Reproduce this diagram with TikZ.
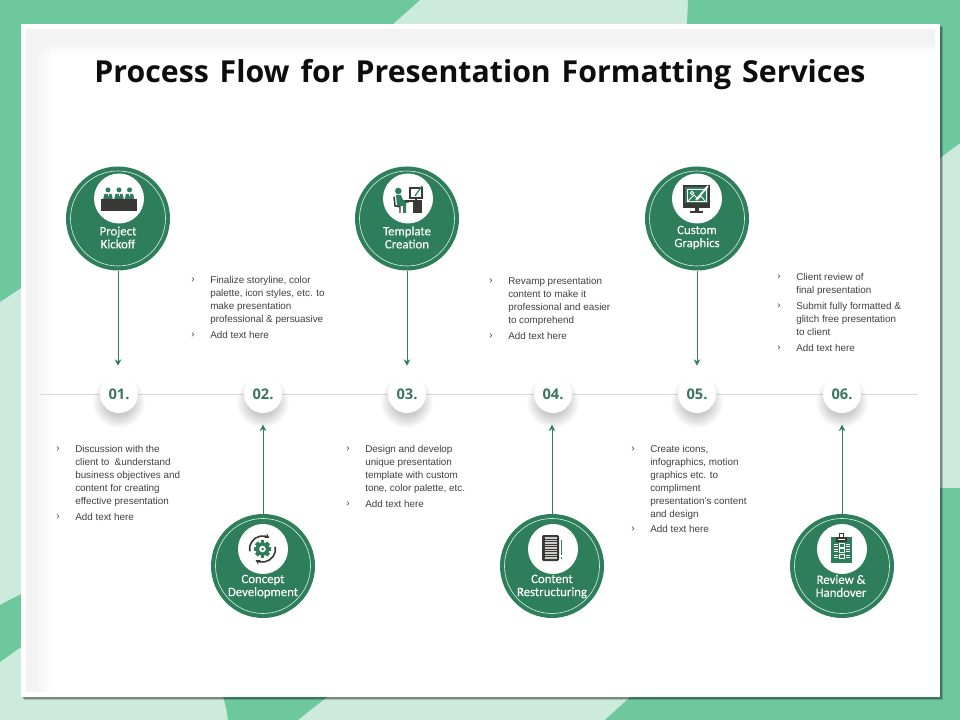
\documentclass[tikz,border=0pt]{standalone}
\usepackage{fontspec}
\setmainfont{Liberation Sans}
\newfontfamily\titlefont{Open Sans}
\newfontfamily\labelfont[FakeBold=0.06]{Carlito}
\usetikzlibrary{arrows.meta,fadings}
\definecolor{gmid}{HTML}{6DC89E}
\definecolor{glight}{HTML}{CDEBDC}
\definecolor{gdark}{HTML}{2E7D5B}
\definecolor{gring}{HTML}{C9EBDB}
\definecolor{icond}{HTML}{3B3838}
\definecolor{bandg}{HTML}{F3F3F3}
\definecolor{bodyt}{HTML}{404040}
\definecolor{numt}{HTML}{3A7560}
\tikzset{
  x=.75pt,y=-.75pt,
  bignode/.style={circle,fill=gdark,minimum size=78pt,inner sep=0pt},
  ringline/.style={draw=gring,line width=.5pt},
  iconback/.style={circle,fill=white,minimum size=37.5pt,inner sep=0pt},
  numnode/.style={circle,fill=white,minimum size=28.5pt,inner sep=0pt,font=\titlefont\bfseries\fontsize{11}{11}\selectfont,text=numt},
  biglabel/.style={align=center,text=white,inner sep=0pt,font=\labelfont\fontsize{9.6}{9.75}\selectfont},
  conn/.style={draw=gdark,line width=.75pt,-{Stealth[length=4.8pt,width=5pt,inset=1.6pt]}},
  bodytext/.style={anchor=north west,align=left,inner sep=0pt,text=bodyt,font=\fontsize{7.4}{9.75}\selectfont},
  chev/.style={anchor=center,inner sep=0pt,text=bodyt,font=\fontsize{7.4}{9.75}\selectfont},
  arcline/.style={draw=icond,line width=1.2pt,-{Stealth[length=3.4pt,width=4pt]}},
}
\newcommand{\numshadow}[2]{%
  \foreach \rr in {26,25,...,14}{\fill[black,opacity=.016] (#1,#2+8) circle[radius=\rr];}%
}
\newcommand{\bulitem}[5]{% name, bullet x, text x, y, text
  \node[chev] (#1b) at (#2,#4+1.5) {›};
  \node[bodytext] (#1t) at (#3,#4-2.8) {#5};
}
\begin{document}
\begin{tikzpicture}
\useasboundingbox (0,0) rectangle (960,720);
% background
\fill[glight] (0,0) rectangle (960,720);
\fill[gmid] (0,0)--(420,0)--(393,24)--(21,24)--(21,288)--(0,302)--cycle;
\fill[gmid] (688,0)--(960,0)--(960,143)--(940,158)--(940,24)--(687,24)--cycle;
\fill[gmid] (630,697)--(605,720)--(960,720)--(960,488)--(940,488)--(940,697)--cycle;
\fill[gmid] (223,697)--(327,697)--(298,720)--(228,720) .. controls (227,712) and (226,705) .. (223,697)--cycle;
\fill[gmid] (0,605)--(21,594)--(21,647)--(0,662)--cycle;
% panel
\fill[black,opacity=.18] (24,27) rectangle (943,700);
\fill[black,opacity=.28] (23,26) rectangle (942,699);
\fill[white] (21,24) rectangle (940,697);
\fill[bandg] (26,29) rectangle (34,692);
\fill[bandg,path fading=east] (34,29) rectangle (52,692);
\fill[bandg] (26,29) rectangle (935,42);
\fill[bandg,path fading=south] (26,42) rectangle (935,54);
% title
\node[inner sep=0pt,text=black!95] (title) at (480,75) {\titlefont\bfseries\fontsize{22.7}{28}\selectfont\spaceskip=.36em Process Flow for Presentation Formatting Services};
% axis
\coordinate (axl) at (40,394);
\coordinate (axr) at (918,394);
\draw[draw=black!15,line width=.7pt] (axl)--(axr);
% number circles
\numshadow{119}{394}\numshadow{263}{394}\numshadow{407}{394}\numshadow{553}{394}\numshadow{697}{394}\numshadow{842}{394}
\node[numnode] (n1) at (119,394) {01.};
\node[numnode] (n2) at (263,394) {02.};
\node[numnode] (n3) at (407,394) {03.};
\node[numnode] (n4) at (553,394) {04.};
\node[numnode] (n5) at (697,394) {05.};
\node[numnode] (n6) at (842,394) {06.};
% big circles
\node[bignode] (c1) at (118,218.5) {};
\node[bignode] (c2) at (263,566) {};
\node[bignode] (c3) at (407,218.5) {};
\node[bignode] (c4) at (552,566) {};
\node[bignode] (c5) at (697,218.5) {};
\node[bignode] (c6) at (842,566) {};
\foreach \c in {c1,c2,c3,c4,c5,c6}{\draw[ringline] (\c) circle[radius=47.5];}
\node[iconback] (i1) at (119,198.5) {};
\node[iconback] (i2) at (263,549) {};
\node[iconback] (i3) at (408,198.5) {};
\node[iconback] (i4) at (697,198.5) {};
\node[iconback] (i5) at (553,549) {};
\node[iconback] (i6) at (842,549) {};
% labels
\node[biglabel] (l1) at (118,237.5) {Project\\Kickoff};
\node[biglabel] (l2) at (263,586.5) {Concept\\Development};
\node[biglabel] (l3) at (407,237.5) {Template\\Creation};
\node[biglabel] (l4) at (552,586.5) {Content\\Restructuring};
\node[biglabel] (l5) at (697,237.5) {Custom\\Graphics};
\node[biglabel] (l6) at (841,586) {Review \&\\Handover};
% connectors
\draw[conn,shorten >=6.8pt] (c1.south) -- (n1.north -| c1.south);
\draw[conn,shorten >=6.8pt] (c3.south) -- (n3.north -| c3.south);
\draw[conn,shorten >=6.8pt] (c5.south) -- (n5.north -| c5.south);
\draw[conn,shorten >=8.6pt] (c2.north) -- (n2.south -| c2.north);
\draw[conn,shorten >=8.6pt] (c4.north) -- (n4.south -| c4.north);
\draw[conn,shorten >=8.6pt] (c6.north) -- (n6.south -| c6.north);
% icon 1: meeting
\begin{scope}[shift={(119,198.5)}]
\foreach \dx in {-11,0,10.5}{
  \fill[gdark] (\dx,-8.6) circle[radius=2.5];
  \fill[gdark] (\dx-5,1.5)--(\dx-3.6,-4.6)--(\dx+3.6,-4.6)--(\dx+5,1.5)--cycle;
  \fill[white] (\dx-.5,-5.5) rectangle (\dx+.5,-2);
}
\fill[icond] (-18.5,1) rectangle (17.5,12.5);
\end{scope}
% icon 2: gear
\begin{scope}[shift={(262.5,549)}]
\foreach \a in {0,45,...,315}{\fill[gdark,rotate=\a] (-1.8,-8.6) rectangle (1.8,8.6);}
\fill[gdark] (0,0) circle[radius=6.8];
\fill[white] (0,0) circle[radius=3.3];
\fill[gdark] (0,0) circle[radius=1.5];
\draw[arcline] (-190:13) arc[start angle=-190,end angle=-58,radius=13];
\draw[arcline] (-10:13) arc[start angle=-10,end angle=122,radius=13];
\end{scope}
% icon 3: person at desk
\begin{scope}[shift={(407,198)}]
\fill[gdark] (-8.7,-7) circle[radius=3.3];
\fill[gdark] (-11,-3)--(-6,-3)--(-4,2)--(2,2.5)--(2,4.5)--(-1,5)--(-1,15)--(-4,15)--(-4,8)--(-10,8)--cycle;
\draw[icond,line width=1.1pt] (-13,-1.3)--(-12,8)--(-7,8.7)--(-7,15);
\draw[icond,line width=.8pt] (-2,3)--(15,3);
\fill[icond] (6,3.5) rectangle (15,15);
\draw[icond,line width=.8pt] (3,-10) rectangle (15,0);
\draw[icond,line width=.8pt] (9,0)--(9,3);
\draw[gdark,line width=.9pt] (8,-2)--(15,-12);
\end{scope}
% icon 4: monitor
\begin{scope}[shift={(697,198)}]
\fill[icond] (-14,-13) rectangle (13,10);
\fill[gdark] (-12,-11) rectangle (11,5.5);
\draw[white,line width=.6pt] (-10,-9) rectangle (9,3.5);
\draw[white,line width=.6pt] (-9,3)--(-3,-3)--(1,1)--(4,-2)--(8,3);
\draw[white,line width=.6pt] (-5,-5) circle[radius=1.8];
\draw[white,line width=1.4pt] (-1,2)--(11,-12);
\fill[icond] (-2.5,10) rectangle (1.5,13);
\fill[icond] (-7,13) rectangle (6,15);
\end{scope}
% icon 5: document
\begin{scope}[shift={(553,549)}]
\fill[icond,rounded corners=1pt] (-11,-14) rectangle (6,12);
\foreach \y in {-11,-8.5,...,9.5}{\draw[white!80!black,line width=.8pt] (-8.5,\y)--(3.5,\y);}
\fill[gdark] (7.6,-9) rectangle (9.4,6);
\fill[gdark] (7.6,7.5) rectangle (9.4,9.5);
\end{scope}
% icon 6: checklist
\begin{scope}[shift={(842,549)}]
\fill[gdark] (-11,-12) rectangle (10,14);
\draw[icond,line width=.8pt,fill=white] (-5,-11) rectangle (4,-8);
\draw[icond,line width=.8pt] (-2.5,-11)--(-2.5,-15.5)--(1.5,-15.5)--(1.5,-11);
\foreach \y in {-4,1.5,7}{
  \draw[white,line width=.6pt] (-2.5,\y-2) rectangle (2,\y+2);
  \draw[white,line width=.6pt] (-8.5,\y-1)--(-4,\y-1) (-8.5,\y+1)--(-4,\y+1);
  \draw[white,line width=.6pt] (3.5,\y-1)--(8,\y-1) (3.5,\y+1)--(8,\y+1);
}
\end{scope}
% texts
\bulitem{a1}{58}{75}{448}{Discussion with the\\client to \ \&understand\\business objectives and\\content for creating\\effective presentation}
\bulitem{a2}{58}{75}{516}{Add text here}
\bulitem{b1}{193}{210}{279}{Finalize storyline, color\\palette, icon styles, etc. to\\make presentation\\professional \& persuasive}
\bulitem{b2}{193}{210}{334}{Add text here}
\bulitem{d1}{348}{365}{448}{Design and develop\\unique presentation\\template with custom\\tone, color palette, etc.}
\bulitem{d2}{348}{365}{503}{Add text here}
\bulitem{e1}{491}{508}{280}{Revamp presentation\\content to make it\\professional and easier\\to comprehend}
\bulitem{e2}{491}{508}{335}{Add text here}
\bulitem{f1}{633}{650}{448}{Create icons,\\infographics, motion\\graphics etc. to\\compliment\\presentation’s content\\and design}
\bulitem{f2}{633}{650}{528}{Add text here}
\bulitem{g1}{779}{796}{276}{Client review of\\final presentation}
\bulitem{g2}{779}{796}{305}{Submit fully formatted \&\\glitch free presentation\\to client}
\bulitem{g3}{779}{796}{347}{Add text here}
\end{tikzpicture}
\end{document}
